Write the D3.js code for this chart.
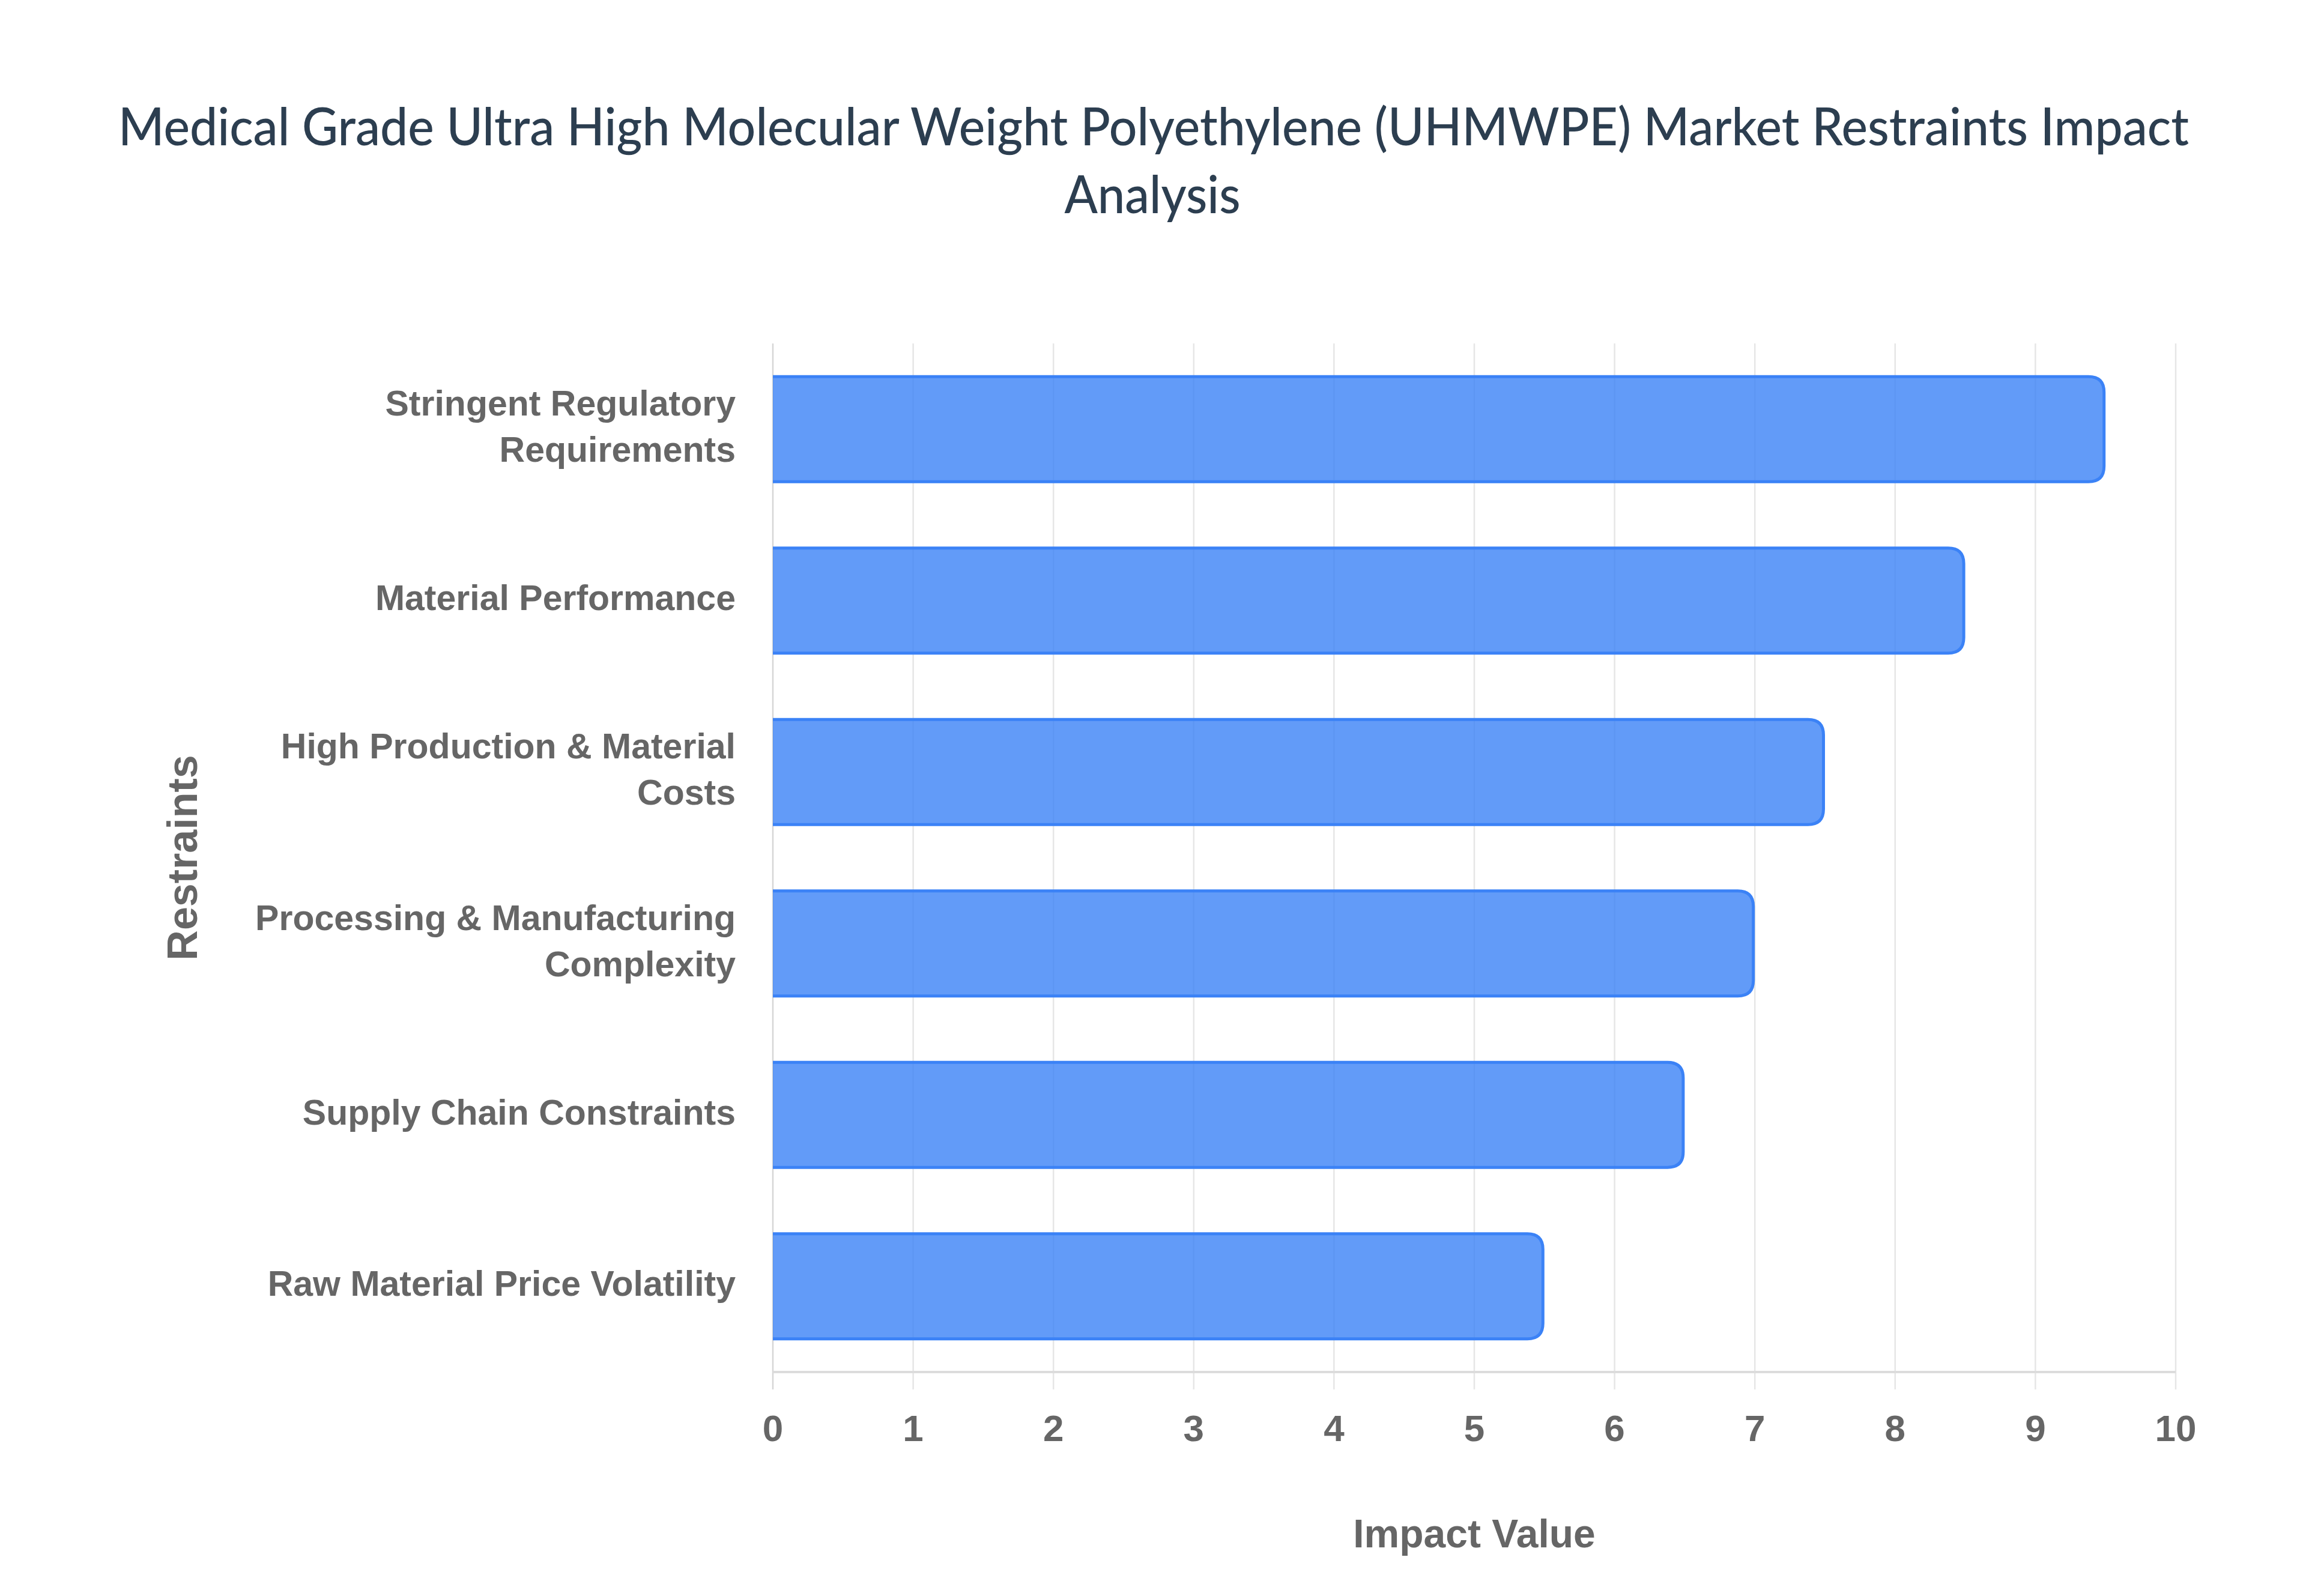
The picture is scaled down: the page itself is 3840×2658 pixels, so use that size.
<!DOCTYPE html>
<html><head><meta charset="utf-8">
<script src="https://cdn.jsdelivr.net/npm/d3@7"></script>
<style>html,body{margin:0;padding:0;background:#fff;}svg{display:block;}</style>
</head><body>
<svg id="chart" width="3840" height="2658"></svg>
<script>
const categories = [
  "Stringent Regulatory Requirements",
  "Material Performance",
  "High Production & Material Costs",
  "Processing & Manufacturing Complexity",
  "Supply Chain Constraints",
  "Raw Material Price Volatility"
];
const categoryLines = [
  ["Stringent Regulatory", "Requirements"],
  ["Material Performance"],
  ["High Production & Material", "Costs"],
  ["Processing & Manufacturing", "Complexity"],
  ["Supply Chain Constraints"],
  ["Raw Material Price Volatility"]
];
const impactValues = [9.5, 8.5, 7.5, 7.0, 6.5, 5.5];
const xTicks = [0,1,2,3,4,5,6,7,8,9,10];
const titleLines = ["Medical Grade Ultra High Molecular Weight Polyethylene (UHMWPE) Market Restraints Impact", "Analysis"];
const xTitle = "Impact Value";
const yTitle = "Restraints";

const svg = d3.select("#chart");
const pLeft = 1287, pRight = 3623, pTop = 572, pBottom = 2285;

const x = d3.scaleLinear().domain([0, 10]).range([pLeft, pRight]);
const y = d3.scaleBand().domain(categories).range([pTop, pBottom]).paddingInner(0.37).paddingOuter(0.185);

// Title
const tfont = "Lato, 'Open Sans', sans-serif";
svg.append("text").attr("x", 1921).attr("y", 242).attr("text-anchor", "middle")
  .attr("font-family", tfont).attr("font-size", 86).attr("font-weight", 500).attr("fill", "#2c3e50")
  .attr("textLength", 3448).attr("lengthAdjust", "spacingAndGlyphs").text(titleLines[0]);
svg.append("text").attr("x", 1919).attr("y", 355).attr("text-anchor", "middle")
  .attr("font-family", tfont).attr("font-size", 86).attr("font-weight", 500).attr("fill", "#2c3e50")
  .attr("textLength", 293).attr("lengthAdjust", "spacingAndGlyphs").text(titleLines[1]);

// Grid lines
const grid = svg.append("g");
grid.selectAll("line").data(xTicks).join("line")
  .attr("x1", d => x(d)).attr("x2", d => x(d))
  .attr("y1", pTop).attr("y2", pBottom + 29)
  .attr("stroke", d => d === 0 ? "#d6d6d6" : "#e6e6e6").attr("stroke-width", 2.5);
// bottom axis line
svg.append("line").attr("x1", pLeft).attr("x2", pRight).attr("y1", pBottom).attr("y2", pBottom)
  .attr("stroke", "#dcdcdc").attr("stroke-width", 4);

// Bars
const rad = 26, sw = 5;
const bars = svg.append("g");
categories.forEach((c, i) => {
  const x0 = x(0), x1 = x(impactValues[i]);
  const y0 = y(c), h = y.bandwidth();
  const yt = y0 + sw/2, yb = y0 + h - sw/2, xr = x1 - sw/2;
  const rr = Math.min(rad, (yb - yt)/2, xr - x0);
  const fillPath = `M${x0},${yt} L${xr - rr},${yt} Q${xr},${yt} ${xr},${yt + rr} L${xr},${yb - rr} Q${xr},${yb} ${xr - rr},${yb} L${x0},${yb} Z`;
  const strokePath = `M${x0},${yt} L${xr - rr},${yt} Q${xr},${yt} ${xr},${yt + rr} L${xr},${yb - rr} Q${xr},${yb} ${xr - rr},${yb} L${x0},${yb}`;
  bars.append("path").attr("d", fillPath).attr("fill", "rgba(59,130,246,0.8)");
  bars.append("path").attr("d", strokePath).attr("fill", "none").attr("stroke", "#3b82f6").attr("stroke-width", sw);
});

// X tick labels
const lfont = "'Liberation Sans', Arial, Helvetica, sans-serif";
svg.append("g").selectAll("text").data(xTicks).join("text")
  .attr("x", d => x(d)).attr("y", 2400).attr("text-anchor", "middle")
  .attr("font-family", lfont).attr("font-weight", "bold").attr("font-size", 62).attr("fill", "#666")
  .text(d => d);

// Y category labels
const yl = svg.append("g");
categories.forEach((c, i) => {
  const lines = categoryLines[i];
  const cy = y(c) + y.bandwidth()/2;
  const lh = 77;
  const startBase = cy - (lines.length - 1) * lh / 2 + 16;
  lines.forEach((ln, j) => {
    yl.append("text").attr("x", 1225).attr("y", startBase + j * lh).attr("text-anchor", "end")
      .attr("font-family", lfont).attr("font-weight", "bold").attr("font-size", 59).attr("fill", "#666")
      .text(ln);
  });
});

// Axis titles
svg.append("text").attr("x", (pLeft + pRight)/2).attr("y", 2577).attr("text-anchor", "middle")
  .attr("font-family", lfont).attr("font-weight", "bold").attr("font-size", 66).attr("fill", "#666")
  .text(xTitle);
svg.append("text").attr("transform", `translate(328,${(pTop + pBottom)/2}) rotate(-90)`).attr("text-anchor", "middle")
  .attr("font-family", lfont).attr("font-weight", "bold").attr("font-size", 70).attr("fill", "#666")
  .text(yTitle);
</script>
</body></html>
